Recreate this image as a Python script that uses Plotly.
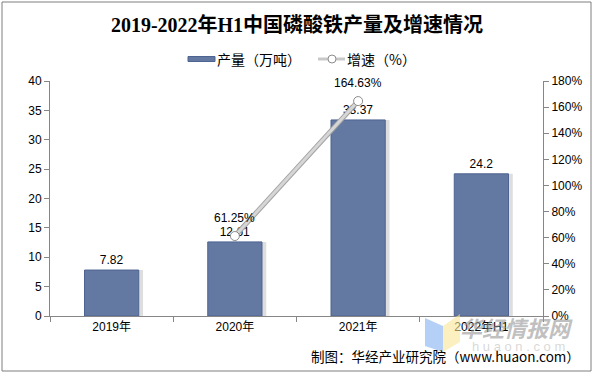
import plotly.graph_objects as go

categories = ["2019年", "2020年", "2021年", "2022年H1"]
output_wt = [7.82, 12.61, 33.37, 24.2]
growth_pct = [None, 61.25, 164.63, None]
left_ticks = [0, 5, 10, 15, 20, 25, 30, 35, 40]
right_ticks = [0, 20, 40, 60, 80, 100, 120, 140, 160, 180]
right_tick_labels = [f"{v}%" for v in right_ticks]

W, H = 594, 374
ML, MR, MT, MB = 50, 51, 81, 58
PW = W - ML - MR
PH = H - MT - MB

def px(x):
    return (x - ML) / PW

def py(y):
    return (H - MB - y) / PH

FONT = "Liberation Sans, Arial, Noto Sans CJK SC"
BAR = "#6479A2"
BAR_EDGE = "#4D6391"
LINE = "#C8C8C8"
BAR_W = 0.44

fig = go.Figure()

# bar shadow
fig.add_trace(go.Bar(
    x=categories, y=output_wt, width=BAR_W, offset=-BAR_W / 2 + 0.035,
    marker=dict(color="rgba(0,0,0,0.13)", line=dict(width=0)),
    showlegend=False, hoverinfo="skip",
))
fig.add_trace(go.Bar(
    x=categories, y=output_wt, name="产量（万吨）",
    marker=dict(color=BAR, line=dict(color=BAR_EDGE, width=1)),
    width=BAR_W, offset=-BAR_W / 2,
    text=[f"{v:g}" for v in output_wt], textposition="outside",
    textfont=dict(family=FONT, size=12, color="#000000"),
    cliponaxis=False, showlegend=False,
))

# line shadow
fig.add_trace(go.Scatter(
    x=categories, y=growth_pct, yaxis="y2", mode="lines",
    line=dict(color="#A0A0A0", width=5), showlegend=False, hoverinfo="skip",
))
fig.add_trace(go.Scatter(
    x=categories, y=growth_pct, yaxis="y2", mode="lines+markers",
    name="增速（%）",
    line=dict(color="#D6D6D6", width=3),
    marker=dict(symbol="circle", size=9, color="#FFFFFF", line=dict(color="#8C8C8C", width=1)),
    cliponaxis=False, showlegend=False,
))
for c, v in zip(categories, growth_pct):
    if v is None:
        continue
    fig.add_annotation(x=c, y=v, xref="x", yref="y2", yshift=18, showarrow=False,
                       text=f"{v:.2f}%", font=dict(family=FONT, size=12, color="#000000"))

axis_color = "#868686"
fig.update_layout(
    width=W, height=H,
    barmode="overlay",
    margin=dict(l=ML, r=MR, t=MT, b=MB, autoexpand=False),
    paper_bgcolor="#FFFFFF", plot_bgcolor="#FFFFFF",
    font=dict(family=FONT, size=12, color="#000000"),
    title=dict(
        text="<b>2019-2022年H1中国磷酸铁产量及增速情况</b>",
        x=0.5, xanchor="center", y=1 - 25 / H, yanchor="middle",
        font=dict(family="Liberation Serif, Noto Sans CJK SC", size=20, color="#000000"),
    ),
    showlegend=False,
    xaxis=dict(
        type="category", showline=True, linecolor=axis_color, linewidth=1,
        ticks="outside", tickson="boundaries", ticklen=5, tickcolor=axis_color,
        showgrid=False, tickfont=dict(family=FONT, size=12),
        range=[-0.5, 3.5], automargin=False,
    ),
    yaxis=dict(
        range=[0, 40], tickvals=left_ticks, showline=True, linecolor=axis_color,
        ticks="outside", ticklen=5, tickcolor=axis_color, showgrid=False, zeroline=False,
        tickfont=dict(family=FONT, size=12), automargin=False,
    ),
    yaxis2=dict(
        range=[0, 180], tickvals=right_ticks, ticktext=right_tick_labels,
        overlaying="y", side="right", showline=True, linecolor=axis_color,
        ticks="outside", ticklen=5, tickcolor=axis_color, showgrid=False, zeroline=False,
        tickfont=dict(family=FONT, size=12), automargin=False,
    ),
)

# outer border
fig.add_shape(type="rect", xref="paper", yref="paper",
              x0=px(2), x1=px(591), y0=py(371), y1=py(2),
              line=dict(color="#7F7F7F", width=1), fillcolor="rgba(0,0,0,0)", layer="below")

# custom legend
LEG_FONT = "Noto Sans CJK SC, Liberation Sans"
fig.add_shape(type="rect", xref="paper", yref="paper",
              x0=px(188), x1=px(215), y0=py(61.5), y1=py(56.5),
              fillcolor=BAR, line=dict(color=BAR_EDGE, width=1))
fig.add_annotation(xref="paper", yref="paper", x=px(215), y=py(59), xanchor="left", yanchor="middle",
                   text="产量（万吨）", showarrow=False, font=dict(family=LEG_FONT, size=14, color="#000000"))
fig.add_shape(type="line", xref="paper", yref="paper",
              x0=px(318), x1=px(345), y0=py(59), y1=py(59),
              line=dict(color=LINE, width=3))
fig.add_shape(type="circle", xref="paper", yref="paper",
              x0=px(328), x1=px(336), y0=py(63), y1=py(55),
              fillcolor="#FFFFFF", line=dict(color="#8C8C8C", width=1))
fig.add_annotation(xref="paper", yref="paper", x=px(345), y=py(59), xanchor="left", yanchor="middle",
                   text="增速（%）", showarrow=False, font=dict(family=LEG_FONT, size=14, color="#000000"))

# watermark logo
fig.add_shape(type="path", xref="paper", yref="paper",
              path=f"M {px(425)} {py(318)} L {px(443)} {py(326)} L {px(443)} {py(352)} L {px(425)} {py(346)} Z",
              fillcolor="rgba(120,170,240,0.55)", line=dict(width=0), layer="above")
fig.add_shape(type="path", xref="paper", yref="paper",
              path=f"M {px(443)} {py(326)} L {px(460)} {py(314)} L {px(460)} {py(342)} L {px(443)} {py(352)} Z",
              fillcolor="rgba(250,230,150,0.6)", line=dict(width=0), layer="above")
fig.add_annotation(xref="paper", yref="paper", x=px(516), y=py(327), xanchor="center", yanchor="middle",
                   text="<b><i>华经情报网</i></b>", showarrow=False,
                   font=dict(family="Noto Sans CJK SC", size=22, color="rgba(150,150,150,0.6)"))
fig.add_annotation(xref="paper", yref="paper", x=px(518), y=py(346), xanchor="center", yanchor="middle",
                   text="h u a o n . c o m", showarrow=False,
                   font=dict(family=FONT, size=13, color="rgba(190,190,190,0.6)"))

# source
fig.add_annotation(xref="paper", yref="paper", x=px(582), y=py(356), xanchor="right", yanchor="middle",
                   text="制图：华经产业研究院（www.huaon.com）", showarrow=False,
                   font=dict(family=LEG_FONT, size=13.5, color="#000000"))

fig.write_html("out.html", config={"displayModeBar": False},
               post_script="document.body.style.margin='0';document.body.style.padding='0';")
